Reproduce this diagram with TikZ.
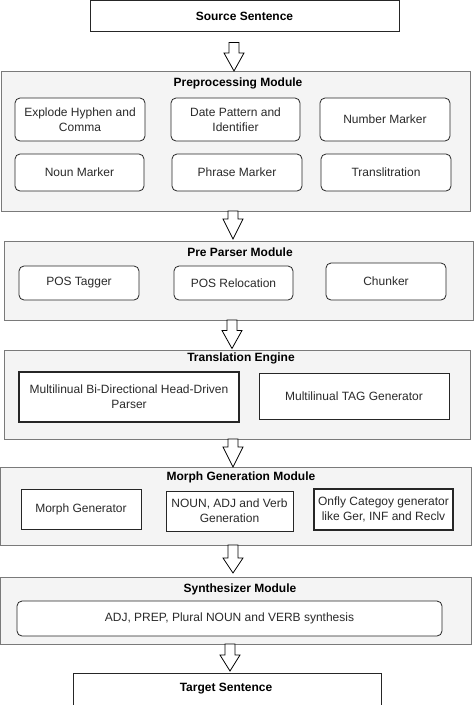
\documentclass[tikz,border=0pt]{standalone}
\usepackage{fontspec}
\setmainfont{Liberation Sans}
\usetikzlibrary{calc}
\definecolor{modborder}{HTML}{7A7A7A}
\definecolor{modfill}{HTML}{F4F4F4}
\definecolor{txt}{HTML}{2A2A2A}
\newcommand\blockarrow[3]{%
  \draw[blockarr] ($(#1)+(-5,0)$) -- ($(#2)+(-5,-#3)$) -- ($(#2)+(-10,-#3)$) -- (#2)
    -- ($(#2)+(10,-#3)$) -- ($(#2)+(5,-#3)$) -- ($(#1)+(5,0)$) -- cycle;}
\begin{document}
\begin{tikzpicture}[x=1pt,y=-1pt,
  every node/.style={font=\fontsize{12}{15}\selectfont, inner sep=0pt, outer sep=0pt},
  module/.style={draw=modborder, fill=modfill, line width=0.8pt},
  endbox/.style={draw=black!85, fill=white, line width=0.9pt, font=\fontsize{12}{15}\selectfont\bfseries},
  title/.style={font=\fontsize{12}{15}\selectfont\bfseries, anchor=center},
  rbox/.style={draw=black!85, fill=white, rounded corners=5pt, line width=0.8pt, text=txt, align=center},
  sbox/.style={draw=black!85, fill=white, line width=0.8pt, text=txt, align=center},
  blockarr/.style={draw=black, fill=white, line width=0.8pt, line join=miter}]
\useasboundingbox (0,0) rectangle (474,705);
\fill[white] (0,0) rectangle (474,705);

% Source
\node[endbox, minimum width=309, minimum height=31] (src) at (244.5,16) {Source Sentence};

% Preprocessing module
\node[module, minimum width=469, minimum height=140] (pre) at (235.5,141) {};
\node[title] (pret) at (238,83) {Preprocessing Module};
\node[rbox, minimum width=130, minimum height=43] (explode) at (80,119.5) {Explode Hyphen and\\Comma};
\node[rbox, minimum width=129, minimum height=43] (date) at (235.5,119.5) {Date Pattern and\\Identifier};
\node[rbox, minimum width=130, minimum height=43] (number) at (385,119.5) {Number Marker};
\node[rbox, minimum width=129, minimum height=37] (noun) at (79.5,172.5) {Noun Marker};
\node[rbox, minimum width=130, minimum height=37] (phrase) at (237,172.5) {Phrase Marker};
\node[rbox, minimum width=130, minimum height=37] (translit) at (386,172.5) {Translitration};

% Pre Parser module
\node[module, minimum width=469, minimum height=79] (pp) at (238.5,280.5) {};
\node[title] (ppt) at (240,252) {Pre Parser Module};
\node[rbox, minimum width=120, minimum height=34] (tagger) at (79,283) {POS Tagger};
\node[rbox, minimum width=119, minimum height=34] (reloc) at (233.5,283) {POS Relocation};
\node[rbox, minimum width=120, minimum height=37] (chunker) at (386,281.5) {Chunker};

% Translation engine
\node[module, minimum width=466, minimum height=89] (te) at (237,394.5) {};
\node[title] (tet) at (241,358.5) {Translation Engine};
\node[sbox, line width=1.3pt, minimum width=220, minimum height=50] (bidir) at (129,397) {Multilinual Bi-Directional Head-Driven\\Parser};
\node[sbox, minimum width=190, minimum height=46] (tag) at (354,396) {Multilinual TAG Generator};

% Morph generation
\node[module, minimum width=471, minimum height=78] (mg) at (235.5,506) {};
\node[title] (mgt) at (241,477.5) {Morph Generation Module};
\node[sbox, minimum width=120, minimum height=40] (morph) at (81,509) {Morph Generator};
\node[sbox, minimum width=127, minimum height=40] (nav) at (229.5,511) {NOUN, ADJ and Verb\\Generation};
\node[sbox, line width=1.1pt, minimum width=139, minimum height=41] (onfly) at (383.5,509.5) {Onfly Categoy generator\\like Ger, INF and Reclv};

% Synthesizer
\node[module, minimum width=471, minimum height=67] (sy) at (235.5,610.5) {};
\node[title] (syt) at (240,589) {Synthesizer Module};
\node[rbox, minimum width=425, minimum height=35] (synth) at (229.5,618.5) {ADJ, PREP, Plural NOUN and VERB synthesis};

% Target
\node[endbox, minimum width=308, minimum height=36] (tgt) at (227,691) {};
\node[title] (tgtt) at (226,689) {Target Sentence};

% Block arrows
\coordinate (a1s) at ($(src.south)+(-10.5,11)$);
\coordinate (a1e) at ($(pre.north)+(-1.5,0)$);
\blockarrow{a1s}{a1e}{18}
\coordinate (a2s) at ($(pre.south)+(-2.5,0)$);
\coordinate (a2e) at ($(pp.north)+(-5.5,-2)$);
\blockarrow{a2s}{a2e}{20}
\coordinate (a3s) at ($(pp.south)+(-6.5,0)$);
\coordinate (a3e) at ($(te.north)+(-5,-1.5)$);
\blockarrow{a3s}{a3e}{18}
\coordinate (a4s) at ($(te.south)+(-4,0)$);
\coordinate (a4e) at ($(mg.north)+(-2.5,0)$);
\blockarrow{a4s}{a4e}{20}
\coordinate (a5s) at ($(mg.south)+(-2.5,0)$);
\coordinate (a5e) at ($(sy.north)+(-2.5,-4)$);
\blockarrow{a5s}{a5e}{15}
\coordinate (a6s) at ($(sy.south)+(-5.5,0)$);
\coordinate (a6e) at ($(tgt.north)+(3,-2)$);
\blockarrow{a6s}{a6e}{16}
\end{tikzpicture}
\end{document}
